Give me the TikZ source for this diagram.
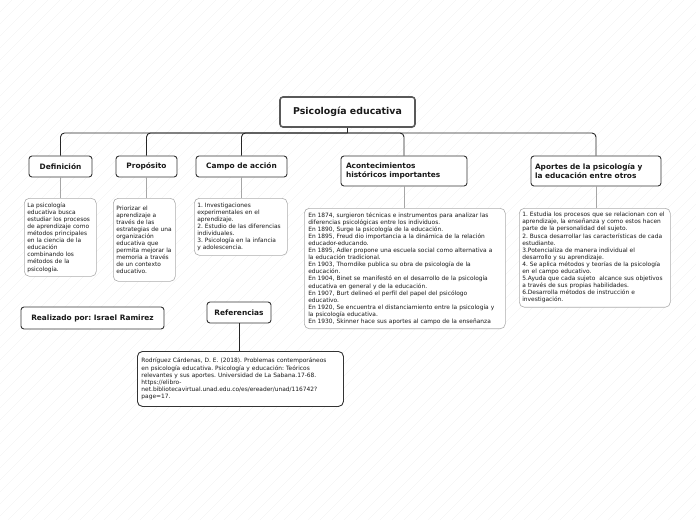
\documentclass[tikz,border=0pt]{standalone}
\usepackage{fontspec}
\setmainfont{DejaVu Sans}
\frenchspacing
\usetikzlibrary{positioning}
\begin{document}
\begin{tikzpicture}[x=1pt, y=-1pt,
    head/.style={draw=black!80, line width=.9pt, rounded corners=3pt, fill=white, text=black!90,
        font=\fontsize{7.4}{9}\selectfont\bfseries, inner sep=3pt},
    txt/.style={draw=gray!65, line width=.6pt, rounded corners=5pt, fill=white, text=black!90,
        font=\fontsize{5.9}{7.1}\selectfont, align=left, anchor=north west, inner xsep=3pt, inner ysep=4pt},
    tree/.style={draw=black!85, line width=.9pt, rounded corners=4pt},
    leaf/.style={draw=gray!70, line width=.6pt}]
    \useasboundingbox (0,0) rectangle (696,520);
    \begin{scope}
    \clip (0,0) rectangle (696,520);
    \foreach \i in {-520,-508,...,696}
    {
        \draw[gray!14, line width=.2pt](\i,520)--++(520,-520);
    }
    \end{scope}

    \node[head, draw=black!65, line width=1.6pt, minimum width=135, minimum height=30,
        font=\fontsize{9.4}{11}\selectfont\bfseries] (title) at (347.5,112) {Psicología educativa};
    \coordinate (bar) at (0,133);

    \node[head, minimum width=63, minimum height=21] (def) at (60.5,166.5) {Definición};
    \node[head, minimum width=61, minimum height=21] (prop) at (146.5,166.5) {Propósito};
    \node[head, minimum width=91, minimum height=21] (campo) at (241.5,166.5) {Campo de acción};
    \node[head, minimum width=126, minimum height=30, text width=116, align=left, inner sep=5pt] (acon)
        at (404,171) {Acontecimientos\\históricos importantes};
    \node[head, minimum width=130, minimum height=30, text width=122, align=left, inner sep=4pt] (aport)
        at (596,171) {Aportes de la psicología y\\la educación entre otros};

    \draw[tree](title.south)--(title.south |- bar);
    \foreach \h in {def,prop,campo,acon,aport}
    {
        \draw[tree](title.south |- bar)-|(\h.north);
    }

    \node[txt, text width=66, minimum height=78] (deftxt) at (24,198)
        {La psicología\\educativa busca\\estudiar los procesos\\de aprendizaje como\\métodos principales\\en la ciencia de la\\educación\\combinando los\\métodos de la\\psicología.};
    \node[txt, text width=56, minimum height=83] (proptxt) at (113,198)
        {Priorizar el\\aprendizaje a\\través de las\\estrategias de una\\organización\\educativa que\\permita mejorar la\\memoria a través\\de un contexto\\educativo.};
    \node[txt, text width=87, minimum height=57] (campotxt) at (194,198)
        {1. Investigaciones\\experimentales en el\\aprendizaje.\\2. Estudio de las diferencias\\individuales.\\3. Psicología en la infancia\\y adolescencia.};
    \node[txt, text width=193, minimum height=119, inner xsep=4pt] (acontxt) at (304,208)
        {En 1874, surgieron técnicas e instrumentos para analizar las\\diferencias psicológicas entre los individuos.\\En 1890, Surge la psicología de la educación.\\En 1895, Freud dio importancia a la dinámica de la relación\\educador-educando.\\En 1895, Adler propone una escuela social como alternativa a\\la educación tradicional.\\En 1903, Thorndike publica su obra de psicología de la\\educación.\\En 1904, Binet se manifestó en el desarrollo de la psicología\\educativa en general y de la educación.\\En 1907, Burt delineó el perfil del papel del psicólogo\\educativo.\\En 1920, Se encuentra el distanciamiento entre la psicología y\\la psicología educativa.\\En 1930, Skinner hace sus aportes al campo de la enseñanza};
    \node[txt, text width=145, minimum height=98] (aporttxt) at (519,208)
        {1. Estudia los procesos que se relacionan con el\\aprendizaje, la enseñanza y como estos hacen\\parte de la personalidad del sujeto.\\2. Busca desarrollar las características de cada\\estudiante.\\3.Potencializa de manera individual el\\desarrollo y su aprendizaje.\\4. Se aplica métodos y teorías de la psicología\\en el campo educativo.\\5.Ayuda que cada sujeto\ \ alcance sus objetivos\\a través de sus propias habilidades.\\6.Desarrolla métodos de instrucción e\\investigación.};

    \foreach \h in {def,prop,campo,acon,aport}
    {
        \draw[leaf](\h.south)--(\h.south |- \h txt.north);
    }

    \node[head, minimum width=143, minimum height=22] (realiz) at (92.5,318) {Realizado por: Israel Ramirez};
    \node[head, minimum width=64, minimum height=21] (refs) at (239,312.5) {Referencias};
    \node[txt, text width=198, minimum height=55, draw=black!80, line width=.9pt, inner xsep=4pt] (refstxt) at (137,351)
        {Rodríguez Cárdenas, D. E. (2018). Problemas contemporáneos\\en psicología educativa. Psicología y educación: Teóricos\\relevantes y sus aportes. Universidad de La Sabana.17-68.\\https://elibro-\\net.bibliotecavirtual.unad.edu.co/es/ereader/unad/116742?\\page=17.};
    \draw[tree](refs.south)--(refs.south |- refstxt.north);

\end{tikzpicture}
\end{document}
